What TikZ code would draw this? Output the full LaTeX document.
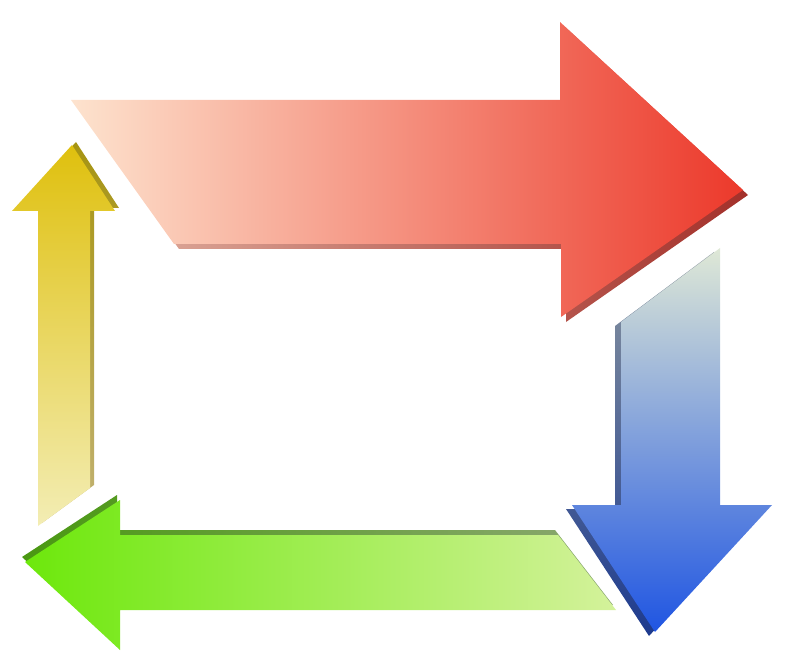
\documentclass[tikz,border=0pt]{standalone}

% colours of the four arrows
\definecolor{redlight}{HTML}{FDE3CE}
\definecolor{reddark}{HTML}{EC392B}
\definecolor{redshadelight}{HTML}{E2B4A4}
\definecolor{redshadedark}{HTML}{A3302A}
\definecolor{bluelight}{HTML}{DFE8D6}
\definecolor{bluedark}{HTML}{1F55E2}
\definecolor{blueshadelight}{HTML}{8A96A0}
\definecolor{blueshadedark}{HTML}{1D3A8E}
\definecolor{greenlight}{HTML}{D4F29B}
\definecolor{greendark}{HTML}{6DE80C}
\definecolor{greenshadelight}{HTML}{8CA872}
\definecolor{greenshadedark}{HTML}{4A9812}
\definecolor{yellowlight}{HTML}{F3EDB4}
\definecolor{yellowdark}{HTML}{DFC00E}
\definecolor{yellowshadelight}{HTML}{C2B274}
\definecolor{yellowshadedark}{HTML}{A69412}

% outlines, in pixels of the picture (y grows downwards)
\newcommand{\redpath}{(71,100) -- (560,100) -- (560,22) -- (743,190) -- (561,317) -- (561,244) -- (174,244) -- cycle}
\newcommand{\bluepath}{(720,248) -- (720,505) -- (772,505) -- (655,632) -- (572,505) -- (621,505) -- (621,322) -- cycle}
\newcommand{\greenpath}{(616,610) -- (120,610) -- (120,650) -- (25,562) -- (120,500) -- (120,535) -- (558,535) -- cycle}
\newcommand{\yellowpath}{(38,526) -- (38,211) -- (12,211) -- (72,145) -- (115,211) -- (90,211) -- (90,488) -- cycle}

\begin{document}
\begin{tikzpicture}[x=0.025cm, y=-0.025cm,
    redarrow/.style={left color=redlight, right color=reddark},
    redshade/.style={left color=redshadelight, right color=redshadedark, shift={(5,5)}},
    bluearrow/.style={top color=bluelight, bottom color=bluedark},
    blueshade/.style={top color=blueshadelight, bottom color=blueshadedark, shift={(-6,4)}},
    greenarrow/.style={left color=greendark, right color=greenlight},
    greenshade/.style={left color=greenshadedark, right color=greenshadelight, shift={(-3,-5)}},
    yellowarrow/.style={top color=yellowdark, bottom color=yellowlight},
    yellowshade/.style={top color=yellowshadedark, bottom color=yellowshadelight, shift={(4,-3)}}]
    \useasboundingbox (0,0) rectangle (800,668);

    % Red arrow (top, to the right)
    \shade[redshade] \redpath;
    \shade[redarrow] \redpath;

    % Blue arrow (right, downwards)
    \shade[blueshade] \bluepath;
    \shade[bluearrow] \bluepath;

    % Green arrow (bottom, to the left)
    \shade[greenshade] \greenpath;
    \shade[greenarrow] \greenpath;

    % Yellow arrow (left, upwards)
    \shade[yellowshade] \yellowpath;
    \shade[yellowarrow] \yellowpath;
\end{tikzpicture}
\end{document}
